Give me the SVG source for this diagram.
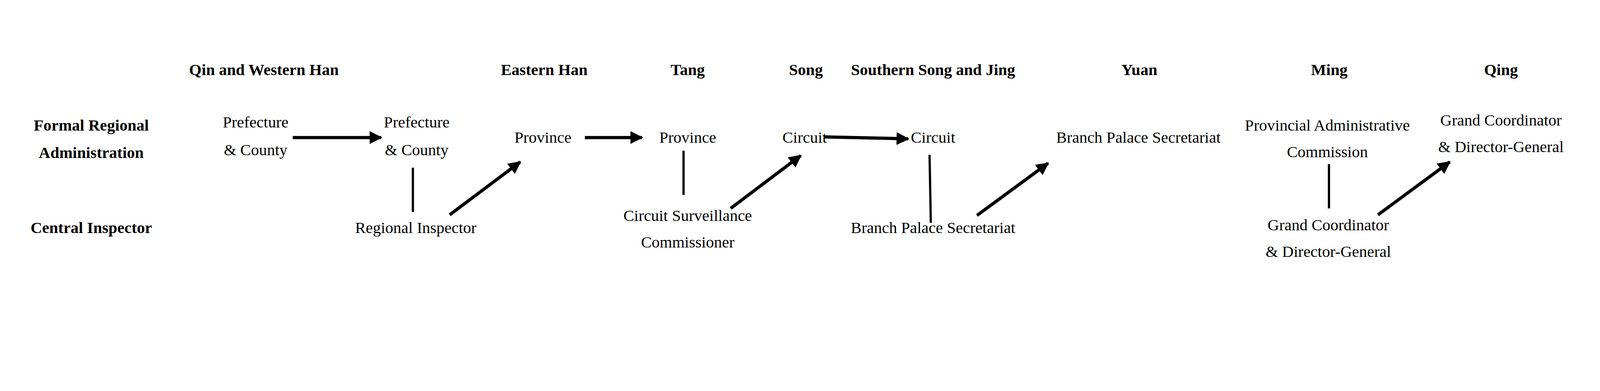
<svg xmlns="http://www.w3.org/2000/svg" width="5000" height="1000" viewBox="0 0 5000 1000">
<style>
text{font-family:"Liberation Serif","Times New Roman",serif;font-size:50px;text-anchor:middle;fill:#000}
.b{font-weight:bold}
.c{stroke:#000;stroke-width:10;fill:none}
.l{stroke:#000;stroke-width:7;fill:none}
</style>
<defs>
<marker id="ah" markerWidth="4" markerHeight="4" refX="3.6" refY="2" orient="auto" markerUnits="strokeWidth">
<path d="M0,0 L4,2 L0,4 Z" fill="#000"/>
</marker>
</defs>
<rect width="5000" height="1000" fill="#fff"/>
<g transform="scale(0.82)">
<g id="headers">
<text class="b" x="824" y="234">Qin and Western Han</text>
<text class="b" x="1699" y="234">Eastern Han</text>
<text class="b" x="2147" y="234">Tang</text>
<text class="b" x="2516" y="234">Song</text>
<text class="b" x="2913" y="234">Southern Song and Jing</text>
<text class="b" x="3557" y="234">Yuan</text>
<text class="b" x="4150" y="234">Ming</text>
<text class="b" x="4686" y="234">Qing</text>
</g>
<g id="row-formal"><text class="b" x="285" y="407">Formal Regional</text><text class="b" x="285" y="493">Administration</text></g>
<g id="row-central"><text class="b" x="285" y="727">Central Inspector</text></g>
<g id="n1"><text x="798" y="397">Prefecture</text><text x="798" y="484">&amp; County</text></g>
<g id="n2"><text x="1301" y="397">Prefecture</text><text x="1301" y="484">&amp; County</text></g>
<g id="n3"><text x="1695" y="445">Province</text></g>
<g id="n4"><text x="2147" y="445">Province</text></g>
<g id="n5"><text x="2512" y="445">Circuit</text></g>
<g id="n6"><text x="2913" y="445">Circuit</text></g>
<g id="n7"><text x="3554" y="445">Branch Palace Secretariat</text></g>
<g id="n8"><text x="4144" y="407">Provincial Administrative</text><text x="4144" y="490">Commission</text></g>
<g id="n9"><text x="4686" y="391">Grand Coordinator</text><text x="4686" y="474">&amp; Director-General</text></g>
<g id="n10"><text x="1298" y="727">Regional Inspector</text></g>
<g id="n11"><text x="2147" y="689">Circuit Surveillance</text><text x="2147" y="772">Commissioner</text></g>
<g id="n12"><text x="2913" y="727">Branch Palace Secretariat</text></g>
<g id="n13"><text x="4147" y="718">Grand Coordinator</text><text x="4147" y="801">&amp; Director-General</text></g>
<g id="connectors">
<line class="c" x1="914" y1="429" x2="1190" y2="429" marker-end="url(#ah)"/>
<line class="c" x1="1826" y1="429" x2="2004" y2="429" marker-end="url(#ah)"/>
<line class="l" x1="1289" y1="523" x2="1289" y2="661"/>
<line class="c" x1="1404" y1="670" x2="1624" y2="505" marker-end="url(#ah)"/>
<line class="l" x1="2134" y1="470" x2="2134" y2="608"/>
<line class="c" x1="2281" y1="650" x2="2500" y2="485" marker-end="url(#ah)"/>
<line class="c" x1="2572" y1="427" x2="2835" y2="433" marker-end="url(#ah)"/>
<line class="l" x1="2902" y1="483" x2="2906" y2="695"/>
<line class="c" x1="3050" y1="672" x2="3272" y2="509" marker-end="url(#ah)"/>
<line class="l" x1="4149" y1="512" x2="4149" y2="650"/>
<line class="c" x1="4302" y1="670" x2="4526" y2="505" marker-end="url(#ah)"/>
</g>
</g>
</svg>
